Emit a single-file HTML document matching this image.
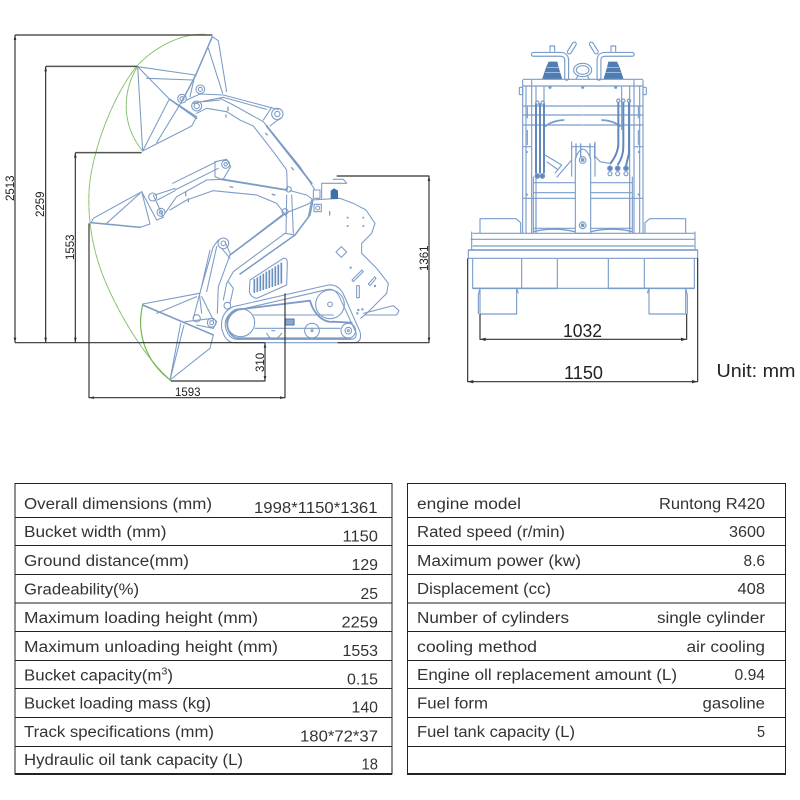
<!DOCTYPE html>
<html><head><meta charset="utf-8"><style>
html,body{margin:0;padding:0;background:#fff}
svg{display:block}
.t text{font-family:"Liberation Sans",sans-serif;font-size:15.5px;fill:#333}
.d text{font-family:"Liberation Sans",sans-serif;fill:#222}
</style></head><body>
<svg width="800" height="800" viewBox="0 0 800 800" xmlns="http://www.w3.org/2000/svg">
<defs><filter id="b" filterUnits="userSpaceOnUse" x="0" y="0" width="800" height="800"><feGaussianBlur stdDeviation=".3"/></filter></defs>
<rect width="800" height="800" fill="#fff"/>

<!-- SIDE VIEW -->
<g filter="url(#b)">
<g transform="translate(0,20) scale(.33333)" fill="none" stroke="#7c9cc6" stroke-width="3.2" stroke-linejoin="round" stroke-linecap="round">
 <!-- green arcs -->
 <g stroke="#86c06c" stroke-width="3">
  <path stroke-dasharray="14 3 3 3" d="M615 43C540 38 450 90 405 145C340 230 280 380 268 500C262 590 275 680 310 770C350 870 430 1010 513 1082"/>
  <path stroke-dasharray="14 3" d="M411 142C370 210 360 310 428 393"/>
  <path stroke="#6fb84f" stroke-width="3.5" d="M428 855C410 930 430 1020 513 1082"/>
 </g>
 <!-- raised bucket -->
 <path d="M413 140L508 237L590 290L575 318L428 393Z"/>
 <path d="M413 140L585 165M440 175L580 180M428 393L508 237M470 368L545 245"/>
 <path stroke-width="4.5" d="M637 50L585 170L545 245M508 237L590 295"/>
 <path d="M637 50L655 62L680 215M625 85L668 220M585 165L570 230"/>
 <circle cx="546" cy="236" r="13"/><circle cx="546" cy="236" r="6"/>
 <circle cx="601" cy="208" r="13"/><circle cx="601" cy="208" r="6"/>
 <circle cx="590" cy="258" r="15"/><circle cx="590" cy="258" r="8"/>
 <path d="M560 240L600 222L670 225L810 262L835 268M580 250L670 232L800 268M610 245L660 240"/>
 <circle cx="832" cy="282" r="17"/><circle cx="832" cy="282" r="8"/>
 <path d="M790 300L815 262M810 318L840 295"/>
 <!-- raised arm -->
 <path d="M590 280L620 265L680 275L720 300L760 318L820 395L860 450L862 510"/>
 <path d="M660 235L700 255L790 305L900 440L945 510"/>
 <path stroke-width="5.5" d="M800 318L935 490"/>
 <path stroke-width="4" d="M684 262V272M678 285V291M797 340L802 345M875 443L880 449"/>
 <!-- middle bucket & arm -->
 <path d="M273 608L420 622L450 612L425 515L280 595Z"/>
 <path stroke-width="4.5" d="M273 608L420 622"/>
 <path d="M320 610L420 520M425 515L470 600L490 592L460 525"/>
 <circle cx="458" cy="531" r="12"/><circle cx="483" cy="577" r="12"/><circle cx="483" cy="577" r="5"/>
 <path d="M465 525L525 505M472 540L525 512M518 490L650 425M525 510L655 445"/>
 <path d="M645 425L680 418L692 440L668 480L645 470Z"/><circle cx="677" cy="433" r="12"/><circle cx="677" cy="433" r="5"/>
 <path d="M495 580L530 530L620 480L665 478L860 510M510 570L560 540L640 512L770 525L830 550L860 590"/>
 <path stroke-width="5.5" d="M665 478L860 510"/>
 <path stroke-width="4" d="M557 515V527M565 537V545M690 500L698 502M817 523L825 525"/>
 <circle cx="866" cy="508" r="8"/>
 <path d="M870 512L920 525L940 540M860 525L858 640M875 525L880 640"/>
 <!-- lowered arm -->
 <path d="M652 880L655 800L690 705L850 582L925 552L938 542"/>
 <path stroke-width="5" d="M690 705L850 585"/>
 <path d="M670 840L680 790L700 755L855 640L885 645"/>
 <path stroke-width="4.5" d="M720 762L885 645L930 585L938 545"/>
 <path d="M685 785L700 805L690 850"/>
 <circle cx="855" cy="575" r="9"/>
 <circle cx="670" cy="670" r="16"/><circle cx="670" cy="670" r="7"/>
 <path d="M655 660L640 680L605 800M690 700L675 665M665 685L690 715M650 680L620 815M630 690L600 820M605 800L580 895M605 830L640 900"/>
 <!-- body -->
 <path d="M935 540L1020 535L1060 550L1098 570L1125 610L1115 640L1085 670L1085 700L1130 745L1165 790L1160 820L1130 850L1100 880L1082 895"/>
 <path d="M1090 880L1180 857L1197 872L1190 885L1095 885"/>
 <path d="M935 540L925 590"/>
 <path d="M965 535V490H1010L1040 490L1030 478L1000 478M965 490H1035"/>
 <path fill="#3e6fa8" stroke="none" d="M992 537V512L1002 505L1014 512V537Z"/>
 <rect x="940" y="510" width="20" height="25"/>
 <rect x="942" y="553" width="22" height="22"/>
 <circle cx="953" cy="564" r="6"/>
 <path d="M1008 696L1024 680L1040 696L1024 712Z"/>
 <path d="M1056 780L1086 750L1090 755L1060 785ZM1105 792L1124 770L1128 775L1110 797ZM1070 797H1078V833H1070Z"/>
 <circle cx="1052" cy="743" r="2"/><circle cx="1125" cy="798" r="2"/><circle cx="1043" cy="593" r="1.5"/><circle cx="1090" cy="593" r="1.5"/><circle cx="1043" cy="618" r="1.5"/><circle cx="1090" cy="618" r="1.5"/>
 <circle cx="1075" cy="870" r="2"/><circle cx="1087" cy="868" r="2"/><circle cx="1072" cy="880" r="2"/>
 <path stroke-width="4" d="M989 575V585"/>
 <!-- grille -->
 <path d="M750 780L850 715Q862 712 862 730L860 795L770 835Q752 832 748 815Z"/>
 <path stroke="#6a90c0" stroke-width="5" stroke-linecap="butt" d="M763 777V819M772 772V816M781 766V813M790 761V810M799 755V807M808 750V804M817 745V801M826 739V798M835 734V795M844 728V791"/>
 <!-- track -->
 <path d="M700 860L985 795Q1015 792 1030 822L1080 935Q1088 968 1060 968H705Q675 968 665 925Q660 878 700 860Z"/>
 <path d="M705 872L985 808Q1005 805 1018 830L1068 938Q1072 958 1050 958H712Q685 958 676 920Q672 888 705 872Z"/>
 <path stroke-width="5.5" d="M705 870L930 842M930 842C940 880 970 910 1000 905L1055 908M712 870Q680 885 682 918Q688 948 712 955L1050 955"/>
 <circle cx="722" cy="908" r="42"/>
 <circle cx="990" cy="853" r="43"/><circle cx="990" cy="853" r="7"/>
 <circle cx="1045" cy="932" r="22"/><circle cx="1045" cy="932" r="10"/><circle cx="1045" cy="932" r="3"/>
 <path d="M800 940Q820 975 845 940M815 932H825"/>
 <circle cx="936" cy="932" r="22"/><circle cx="936" cy="932" r="3"/>
 <path d="M760 885L1000 885M765 925H1020"/>
 <rect x="855" y="897" width="27" height="18" fill="#8aa8cc" stroke="#4d78ab"/>
 <circle cx="682" cy="857" r="10"/>
 <!-- low bucket -->
 <path d="M428 855L640 945L630 985L510 1080L542 910"/>
 <path stroke-width="4.5" d="M428 855L640 945"/>
 <path d="M428 852L598 820L605 880M470 880L590 830M510 1080L552 915M555 905L640 895L650 905L640 925L590 915"/>
 <circle cx="590" cy="895" r="11"/><circle cx="635" cy="908" r="13"/><circle cx="635" cy="908" r="6"/>
 <!-- dimension lines -->
 <g stroke="#333" stroke-width="3.5" stroke-linecap="butt">
  <path stroke="#555" stroke-width="4.5" d="M45 45H637M137 139H412M226 398H425"/>
  <path d="M45 45V968M137 139V968M226 398V968M45 968H795"/>
  <path d="M267 610V1133H855V820M513 1083H795V968"/>
  <path d="M1010 468H1287V968H1013"/>
 </g>
 <g fill="#333" stroke="none">
  <path d="M45 45L41 60H49ZM45 968L41 953H49ZM137 139L133 154H141ZM137 968L133 953H141ZM226 398L222 413H230ZM226 968L222 953H230Z"/>
  <path d="M267 1133L282 1129V1137ZM855 1133L840 1129V1137ZM795 968L791 983H799ZM795 1083L791 1068H799ZM1287 468L1283 483H1291ZM1287 968L1283 953H1291Z"/>
 </g>
</g>
</g>
<g class="d">
 <text font-size="11.5" transform="translate(14,201) rotate(-90)">2513</text>
 <text font-size="11.5" transform="translate(44,217) rotate(-90)">2259</text>
 <text font-size="11.5" transform="translate(74,260) rotate(-90)">1553</text>
 <text font-size="11.5" transform="translate(428,271) rotate(-90)">1361</text>
 <text font-size="11.5" transform="translate(264,372) rotate(-90)">310</text>
 <text font-size="11.5" x="175" y="396">1593</text>
</g>

<!-- FRONT VIEW -->
<g filter="url(#b)">
<g transform="translate(450,30) scale(.33333)" fill="none" stroke="#7a9ccb" stroke-width="3.4" stroke-linejoin="round">
 <g id="half">
  <path stroke="#7a9ccb" stroke-width="15" stroke-linecap="round" d="M250 73H332Q350 73 350 92V145M358 66L373 42"/>
  <path stroke="#fff" stroke-width="8" stroke-linecap="round" d="M250 73H332Q350 73 350 92V145M358 66L373 42"/>
  <path d="M300 65V48H314V65"/>
  <path fill="#4f7db3" stroke="none" d="M296 95H322L326 112L337 148H276L288 112Z"/>
  <path stroke="#cfe0f0" stroke-width="2" d="M290 112H326M285 128H331"/>
  <path d="M218 150V610M218 148H398M218 168H398M245 150V610M258 168V610M228 168V610"/>
  <path d="M282 168V300M218 228H398M218 255H398M218 285H398"/>
  <path stroke-width="5" d="M285 290Q305 272 343 270"/>
  <path d="M250 440V610M250 458H375M250 488H375M250 505H375M250 595H375M258 505V595M218 505H250M218 350H245M232 230V265M232 300V345"/>
  <path stroke-width="4" d="M250 605Q310 590 375 605"/>
  <rect x="208" y="172" width="10" height="22" rx="3"/>
  <circle cx="230" cy="366" r="2" fill="#6e95c4"/><circle cx="300" cy="172" r="3" fill="#6e95c4"/><circle cx="230" cy="494" r="2" fill="#6e95c4"/>
  <path d="M90 610V566H198L212 578V610M90 775V852H200V775M90 775L85 795V852M200 775L205 790"/>
 </g>
 <use href="#half" transform="translate(797,0) scale(-1,1)"/>
 <!-- left hoses -->
 <path stroke-width="6" stroke="#6288bd" d="M258 220V430M270 220V430M282 220V430"/>
 <circle cx="262" cy="218" r="5"/><circle cx="278" cy="218" r="5"/>
 <circle cx="262" cy="438" r="7" fill="#5d86bb"/><circle cx="277" cy="438" r="7" fill="#5d86bb"/>
 <path d="M285 375L335 405L315 430M290 395L325 420M320 442L365 390M365 335V440"/>
 <!-- right hoses -->
 <path stroke-width="6" stroke="#6288bd" d="M505 215V340Q505 370 480 402M520 215V350Q520 380 503 405M537 215V370L528 408"/>
 <circle cx="505" cy="212" r="5"/><circle cx="520" cy="212" r="5"/><circle cx="537" cy="212" r="5"/>
 <circle cx="480" cy="415" r="7" fill="#5d86bb"/><circle cx="503" cy="415" r="7" fill="#5d86bb"/><circle cx="528" cy="415" r="7" fill="#5d86bb"/>
 <circle cx="480" cy="431" r="6"/><circle cx="503" cy="431" r="6"/><circle cx="528" cy="431" r="6"/>
 <path d="M435 335V440M478 400L450 395L432 375"/>
 <!-- centre -->
 <ellipse cx="398" cy="120" rx="27" ry="20"/><ellipse cx="398" cy="120" rx="19" ry="13"/>
 <path d="M385 135L378 148M411 135L418 148"/>
 <circle cx="398" cy="172" r="3" fill="#6e95c4"/>
 <path fill="#fff" d="M376 385Q398 330 422 385V610H376Z"/>
 <path d="M365 350H432"/>
 <path stroke-width="4" d="M378 340V385M392 340V385M420 340V385M434 340V385"/>
 <circle cx="398" cy="390" r="10"/><circle cx="398" cy="390" r="4" fill="#6e95c4"/>
 <circle cx="398" cy="586" r="10"/><circle cx="398" cy="586" r="4" fill="#6e95c4"/>
 <!-- bucket -->
 <path d="M68 610H733M62 628H735M68 648H733"/>
 <path d="M65 605V658M735 605V658"/>
 <rect x="55" y="660" width="688" height="25"/>
 <path stroke-width="4.5" d="M55 660H743"/>
 <path d="M68 687V775H733V687M215 687V775M322 687V775M475 687V775M583 687V775"/>
 <path stroke-width="4.5" d="M68 775H215M583 775H733M215 775H322M475 775H583"/>
 <g stroke="#333" stroke-width="3.5">
  <path d="M53 685V1055H743V685M90 852V928H710V852"/>
 </g>
 <g fill="#333" stroke="none">
  <path d="M53 1055L70 1050V1060ZM743 1055L726 1050V1060ZM90 928L107 923V933ZM710 928L693 923V933Z"/>
 </g>
</g>
</g>
<g class="d" text-anchor="start">
 <text x="563" y="337" font-size="18.5" textLength="39" lengthAdjust="spacingAndGlyphs">1032</text>
 <text x="564" y="379" font-size="18.5" textLength="39" lengthAdjust="spacingAndGlyphs">1150</text>
 <text x="716.5" y="377" font-size="18.5" textLength="79" lengthAdjust="spacingAndGlyphs">Unit: mm</text>
</g>

<!-- TABLES -->
<g fill="none" stroke="#222" stroke-width="1">
 <path d="M15 483.5H392V774H15ZM15 517.5H392M15 545.5H392M15 574.5H392M15 603H392M15 631.5H392M15 660.5H392M15 688.5H392M15 717.5H392M15 746.5H392"/>
 <path d="M407.5 483.5H785.5V774H407.5ZM407.5 517.5H785.5M407.5 545.5H785.5M407.5 574.5H785.5M407.5 603H785.5M407.5 631.5H785.5M407.5 660.5H785.5M407.5 688.5H785.5M407.5 717.5H785.5M407.5 746.5H785.5"/>
 <path stroke-width="2" d="M15 774H392M407 774H786"/>
</g>
<g class="t">
 <text x="24" y="509" textLength="188" lengthAdjust="spacingAndGlyphs">Overall dimensions (mm)</text>
 <text x="254" y="513" textLength="123.5" lengthAdjust="spacingAndGlyphs">1998*1150*1361</text>
 <text x="24" y="537" textLength="142.5" lengthAdjust="spacingAndGlyphs">Bucket width (mm)</text>
 <text x="342.5" y="541.5" textLength="35.5" lengthAdjust="spacingAndGlyphs">1150</text>
 <text x="24" y="566" textLength="165" lengthAdjust="spacingAndGlyphs">Ground distance(mm)</text>
 <text x="351.5" y="570" textLength="26.5" lengthAdjust="spacingAndGlyphs">129</text>
 <text x="24" y="594.5" textLength="115" lengthAdjust="spacingAndGlyphs">Gradeability(%)</text>
 <text x="360.5" y="599" textLength="17.5" lengthAdjust="spacingAndGlyphs">25</text>
 <text x="24" y="623" textLength="234" lengthAdjust="spacingAndGlyphs">Maximum loading height (mm)</text>
 <text x="341.5" y="627.5" textLength="36.5" lengthAdjust="spacingAndGlyphs">2259</text>
 <text x="24" y="652" textLength="254" lengthAdjust="spacingAndGlyphs">Maximum unloading height (mm)</text>
 <text x="342.5" y="656" textLength="35.5" lengthAdjust="spacingAndGlyphs">1553</text>
 <text x="24" y="680.5" textLength="149" lengthAdjust="spacingAndGlyphs">Bucket capacity(m<tspan font-size="10" dy="-6">3</tspan><tspan dy="6">)</tspan></text>
 <text x="347" y="684.5" textLength="31" lengthAdjust="spacingAndGlyphs">0.15</text>
 <text x="24" y="708.5" textLength="187" lengthAdjust="spacingAndGlyphs">Bucket loading mass (kg)</text>
 <text x="351.5" y="712.5" textLength="26.5" lengthAdjust="spacingAndGlyphs">140</text>
 <text x="24" y="737" textLength="190" lengthAdjust="spacingAndGlyphs">Track specifications (mm)</text>
 <text x="300" y="741.5" textLength="78" lengthAdjust="spacingAndGlyphs">180*72*37</text>
 <text x="24" y="765" textLength="219" lengthAdjust="spacingAndGlyphs">Hydraulic oil tank capacity (L)</text>
 <text x="361.5" y="769.5" textLength="16.5" lengthAdjust="spacingAndGlyphs">18</text>

 <text x="417" y="509" textLength="104" lengthAdjust="spacingAndGlyphs">engine model</text>
 <text x="659" y="509" textLength="106" lengthAdjust="spacingAndGlyphs">Runtong R420</text>
 <text x="417" y="537" textLength="148" lengthAdjust="spacingAndGlyphs">Rated speed (r/min)</text>
 <text x="729" y="537" textLength="36" lengthAdjust="spacingAndGlyphs">3600</text>
 <text x="417" y="566" textLength="164" lengthAdjust="spacingAndGlyphs">Maximum power (kw)</text>
 <text x="743.5" y="566" textLength="21.5" lengthAdjust="spacingAndGlyphs">8.6</text>
 <text x="417" y="594" textLength="134" lengthAdjust="spacingAndGlyphs">Displacement (cc)</text>
 <text x="737.5" y="594" textLength="27.5" lengthAdjust="spacingAndGlyphs">408</text>
 <text x="417" y="623" textLength="152" lengthAdjust="spacingAndGlyphs">Number of cylinders</text>
 <text x="657" y="623" textLength="108" lengthAdjust="spacingAndGlyphs">single cylinder</text>
 <text x="417" y="652" textLength="120" lengthAdjust="spacingAndGlyphs">cooling method</text>
 <text x="686.5" y="652" textLength="78.5" lengthAdjust="spacingAndGlyphs">air cooling</text>
 <text x="417" y="680" textLength="260" lengthAdjust="spacingAndGlyphs">Engine oll replacement amount (L)</text>
 <text x="734.5" y="680" textLength="30.5" lengthAdjust="spacingAndGlyphs">0.94</text>
 <text x="417" y="708.5" textLength="71" lengthAdjust="spacingAndGlyphs">Fuel form</text>
 <text x="702.5" y="708.5" textLength="62.5" lengthAdjust="spacingAndGlyphs">gasoline</text>
 <text x="417" y="737" textLength="158" lengthAdjust="spacingAndGlyphs">Fuel tank capacity (L)</text>
 <text x="757" y="737" textLength="8" lengthAdjust="spacingAndGlyphs">5</text>
</g>
</svg>
</body></html>
